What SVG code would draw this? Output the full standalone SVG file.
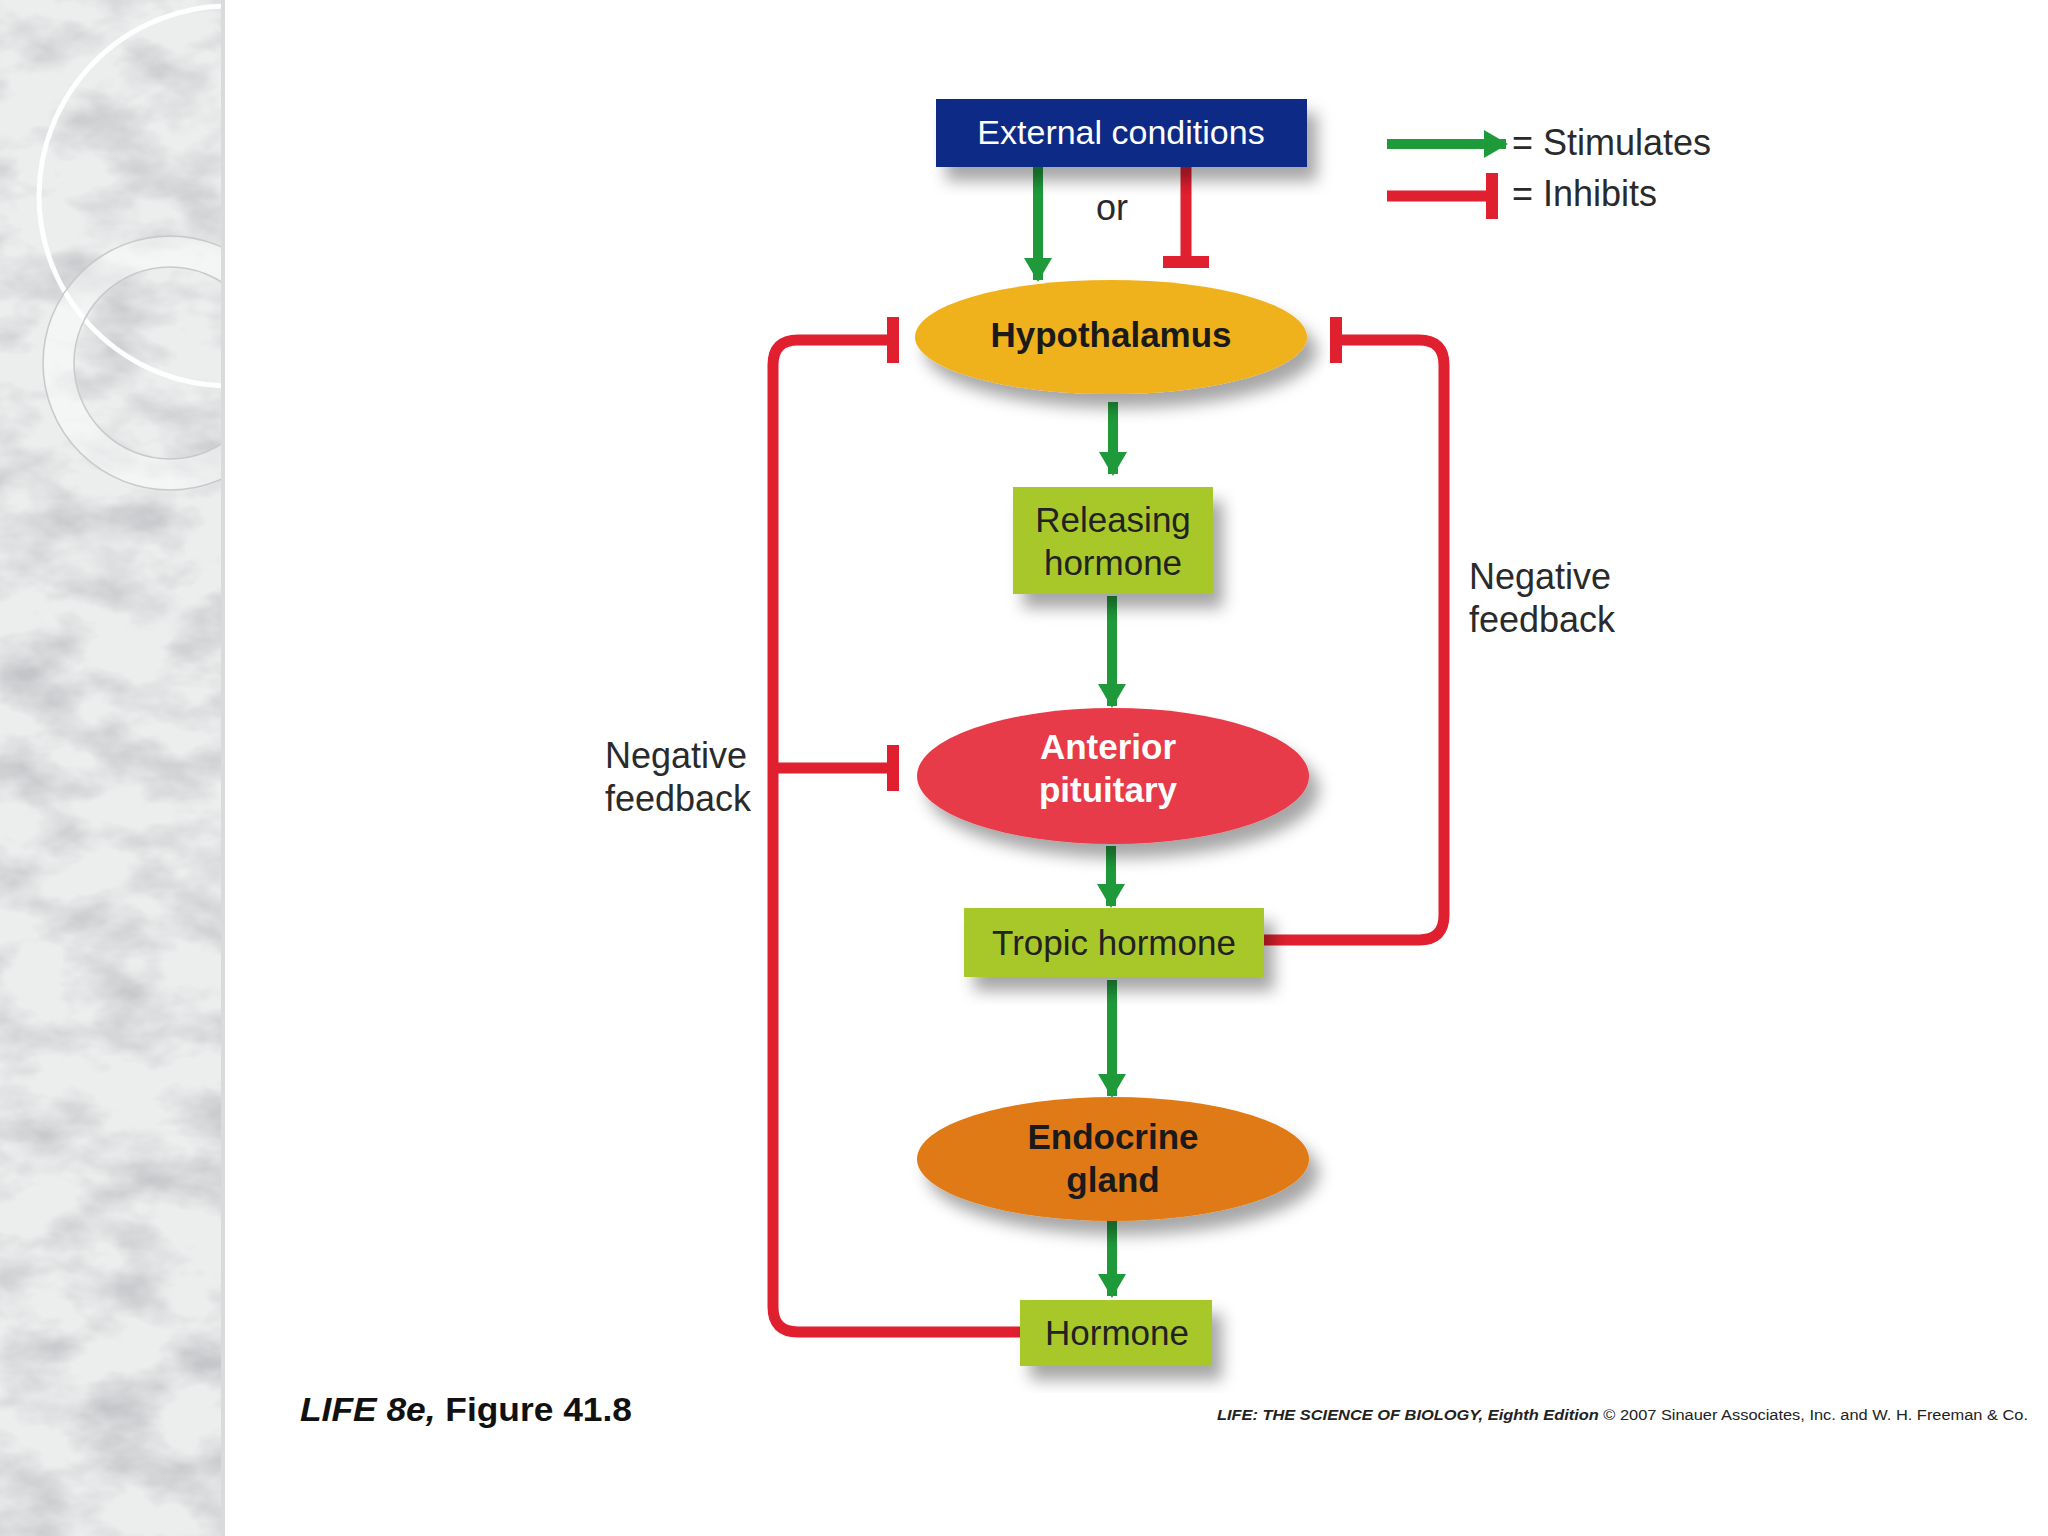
<svg xmlns="http://www.w3.org/2000/svg" width="2048" height="1536" viewBox="0 0 2048 1536">
<defs>
<clipPath id="stripclip"><rect x="0" y="0" width="225" height="1536"/></clipPath>
<filter id="marble" x="0" y="0" width="100%" height="100%">
<feTurbulence type="fractalNoise" baseFrequency="0.012 0.02" numOctaves="4" seed="7" result="n"/>
<feColorMatrix type="matrix" values="0 0 0 0 0.55  0 0 0 0 0.56  0 0 0 0 0.58  -2.2 0 0 0 1.3" in="n" result="v"/>
<feComposite in="v" in2="SourceGraphic" operator="in"/>
</filter>
<filter id="sh" x="-20%" y="-20%" width="150%" height="160%">
<feDropShadow dx="10" dy="14" stdDeviation="8" flood-color="#000" flood-opacity="0.35"/>
</filter>
<marker id="ga" viewBox="0 0 24 28" refX="22" refY="14" markerWidth="24" markerHeight="28" markerUnits="userSpaceOnUse" orient="auto">
<path d="M0,0 L24,14 L0,28 Z" fill="#1f9a3b"/>
</marker>
<marker id="rb" viewBox="0 0 12 46" refX="6" refY="23" markerWidth="12" markerHeight="46" markerUnits="userSpaceOnUse" orient="auto">
<rect x="0" y="0" width="12" height="46" fill="#e01f2f"/>
</marker>
<style>
.g{stroke:#1f9a3b;stroke-width:10;fill:none;marker-end:url(#ga)}
.r{stroke:#e01f2f;stroke-width:11;fill:none;stroke-linejoin:round}
.rb{marker-end:url(#rb)}
.t{font-family:"Liberation Sans",Arial,sans-serif;text-anchor:middle}
.lbl{font-family:"Liberation Sans",Arial,sans-serif;font-size:36px;fill:#2a2a2a}
.b{font-weight:bold}
</style>
</defs>
<rect width="2048" height="1536" fill="#ffffff"/>
<g id="marble-strip" clip-path="url(#stripclip)">
<rect x="0" y="0" width="227" height="1536" fill="#eceded"/>
<rect x="0" y="0" width="227" height="1536" fill="#fff" filter="url(#marble)"/>
<circle cx="229" cy="196" r="190" fill="none" stroke="#ffffff" stroke-width="5" opacity="0.95"/>
<circle cx="170" cy="363" r="111" fill="none" stroke="#ffffff" stroke-width="30" opacity="0.45"/>
<circle cx="170" cy="363" r="127" fill="none" stroke="#c8c9cc" stroke-width="1.5"/>
<circle cx="170" cy="363" r="96" fill="none" stroke="#c8c9cc" stroke-width="1.5"/>
<rect x="221" y="0" width="4" height="1536" fill="#d9dadc"/>
</g>

<g id="connectors">
<line class="g" x1="1038" y1="167" x2="1038" y2="280"/>
<path class="r rb" d="M1186,167 L1186,262"/>
<line class="g" x1="1113" y1="402" x2="1113" y2="474"/>
<line class="g" x1="1112" y1="596" x2="1112" y2="706"/>
<line class="g" x1="1111" y1="846" x2="1111" y2="906"/>
<line class="g" x1="1112" y1="980" x2="1112" y2="1096"/>
<line class="g" x1="1112" y1="1220" x2="1112" y2="1296"/>
<path class="r rb" d="M1021,1332 L798,1332 Q773,1332 773,1307 L773,365 Q773,340 798,340 L893,340"/>
<path class="r rb" d="M773,768 L893,768"/>
<path class="r rb" d="M1264,940 L1419,940 Q1444,940 1444,915 L1444,365 Q1444,340 1419,340 L1336,340"/>
</g>

<g id="external-conditions">
<rect x="936" y="99" width="371" height="68" fill="#0c2c86" filter="url(#sh)"/>
<text class="t" x="1121" y="144" font-size="34" fill="#ffffff">External conditions</text>
</g>
<text id="or-label" class="lbl t" x="1112" y="220" font-size="34">or</text>

<g id="hypothalamus">
<ellipse cx="1111" cy="337" rx="196" ry="57" fill="#f0b21c" filter="url(#sh)"/>
<text class="t b" x="1111" y="347" font-size="35" fill="#1a1a1a">Hypothalamus</text>
</g>

<g id="releasing-hormone">
<rect x="1013" y="487" width="200" height="107" fill="#a8c82b" filter="url(#sh)"/>
<text class="t" x="1113" y="532" font-size="35" fill="#222">Releasing</text>
<text class="t" x="1113" y="575" font-size="35" fill="#222">hormone</text>
</g>

<g id="anterior-pituitary">
<ellipse cx="1113" cy="776" rx="196" ry="68" fill="#e83a48" filter="url(#sh)"/>
<text class="t" x="1108" y="759" font-size="35" fill="#ffffff" font-weight="600">Anterior</text>
<text class="t" x="1108" y="802" font-size="35" fill="#ffffff" font-weight="600">pituitary</text>
</g>

<g id="tropic-hormone">
<rect x="964" y="908" width="300" height="69" fill="#a8c82b" filter="url(#sh)"/>
<text class="t" x="1114" y="955" font-size="35" fill="#222">Tropic hormone</text>
</g>

<g id="endocrine-gland">
<ellipse cx="1113" cy="1159" rx="196" ry="62" fill="#e07a12" filter="url(#sh)"/>
<text class="t b" x="1113" y="1149" font-size="35" fill="#1a1a1a">Endocrine</text>
<text class="t b" x="1113" y="1192" font-size="35" fill="#1a1a1a">gland</text>
</g>

<g id="hormone">
<rect x="1020" y="1300" width="192" height="66" fill="#a8c82b" filter="url(#sh)"/>
<text class="t" x="1117" y="1345" font-size="35" fill="#222">Hormone</text>
</g>

<g id="negative-feedback-left">
<text class="lbl" x="605" y="768">Negative</text>
<text class="lbl" x="605" y="811">feedback</text>
</g>
<g id="negative-feedback-right">
<text class="lbl" x="1469" y="589">Negative</text>
<text class="lbl" x="1469" y="632">feedback</text>
</g>

<g id="legend">
<line class="g" x1="1387" y1="144" x2="1506" y2="144"/>
<text class="lbl" x="1512" y="155">= Stimulates</text>
<path class="r rb" d="M1387,196 L1492,196"/>
<text class="lbl" x="1512" y="206">= Inhibits</text>
</g>

<g id="caption">
<text x="300" y="1421" font-family="'Liberation Sans',Arial,sans-serif" font-size="34" font-weight="bold" fill="#111" textLength="332" lengthAdjust="spacingAndGlyphs"><tspan font-style="italic">LIFE 8e,</tspan> Figure 41.8</text>
<text x="1217" y="1420" font-family="'Liberation Sans',Arial,sans-serif" font-size="14" fill="#222" textLength="811" lengthAdjust="spacingAndGlyphs"><tspan font-weight="bold" font-style="italic">LIFE: THE SCIENCE OF BIOLOGY, Eighth Edition</tspan>  © 2007 Sinauer Associates, Inc. and W. H. Freeman &amp; Co.</text>
</g>
</svg>
